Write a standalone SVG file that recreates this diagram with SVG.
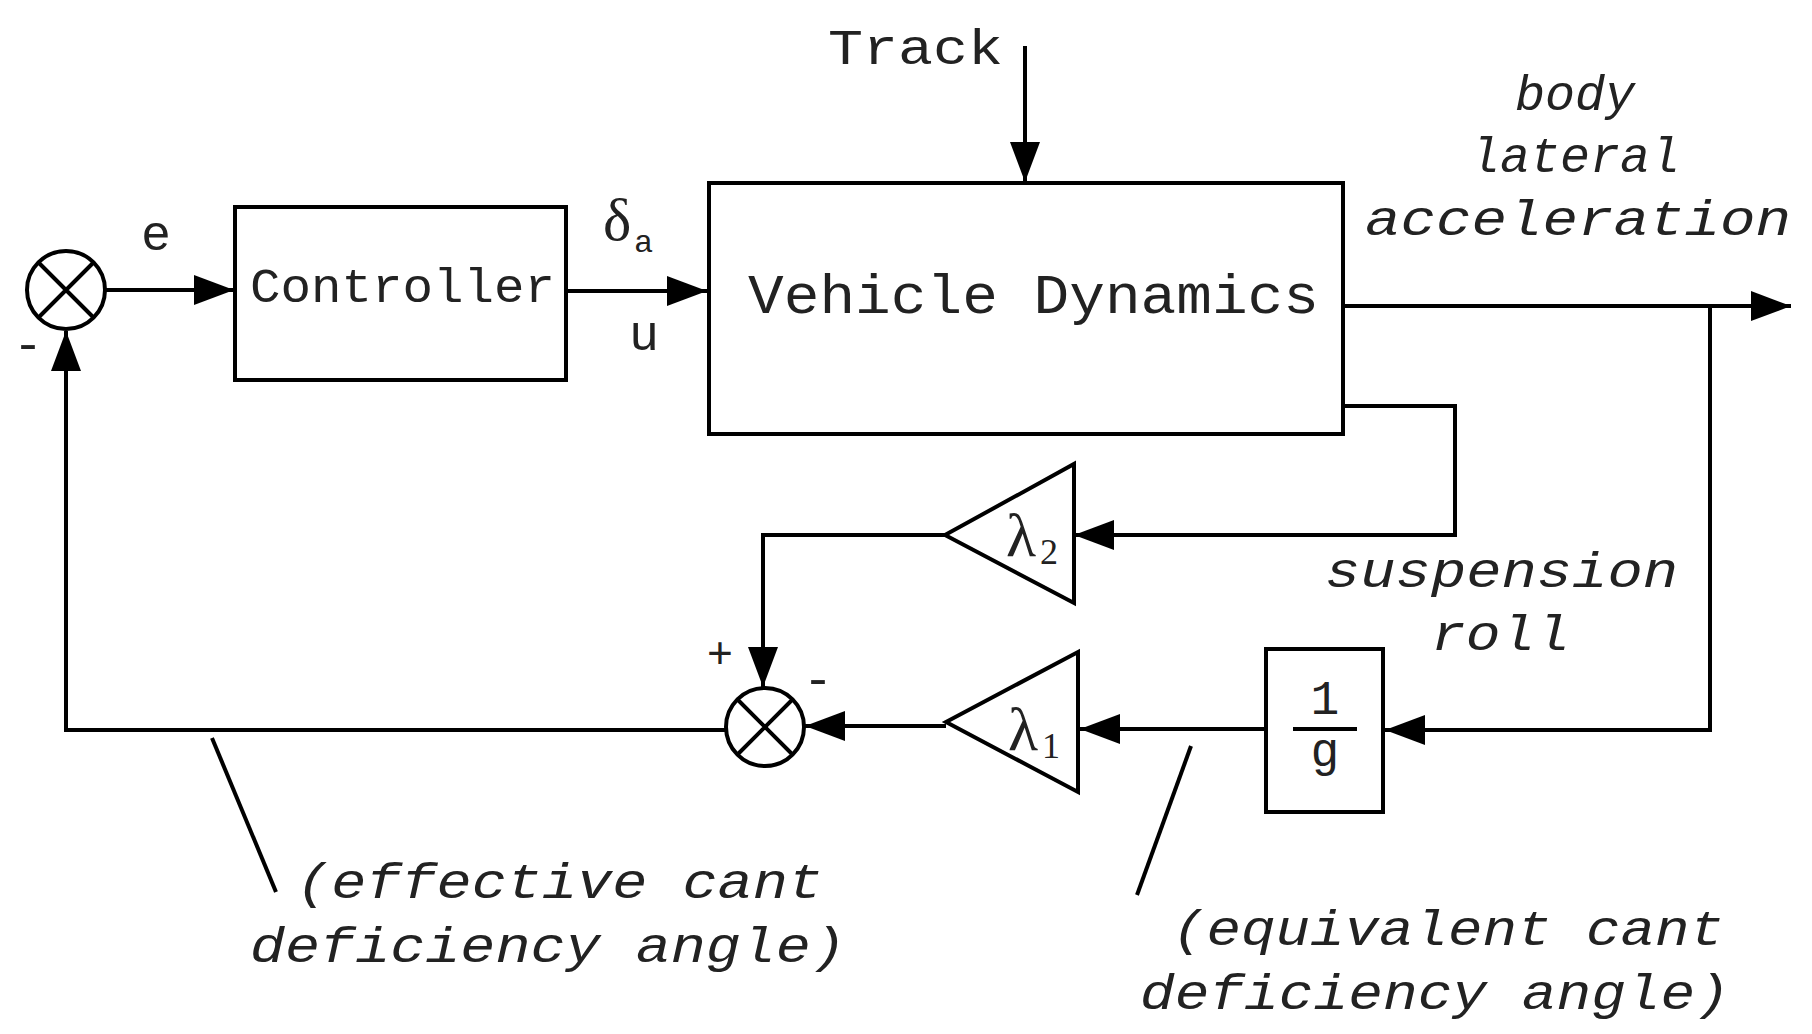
<svg xmlns="http://www.w3.org/2000/svg" width="1812" height="1034" viewBox="0 0 1812 1034">
<style>
.s{fill:none;stroke:#000;stroke-width:4}
.b{fill:#fff;stroke:#000;stroke-width:4}
.m{font-family:"Liberation Mono","DejaVu Sans Mono",monospace;fill:#222}
.i{font-family:"Liberation Mono","DejaVu Sans Mono",monospace;font-style:italic;fill:#222}
.g{font-family:"Liberation Serif","DejaVu Serif",serif;fill:#222}
</style>
<defs>
<marker id="a" markerUnits="userSpaceOnUse" markerWidth="40" markerHeight="30" refX="40" refY="15" orient="auto"><path d="M0,0L40,15L0,30z" fill="#000"/></marker>
</defs>
<rect width="1812" height="1034" fill="#fff"/>
<g id="connectors" class="s">
<line x1="105" y1="290" x2="234" y2="290" marker-end="url(#a)"/>
<line x1="566" y1="291" x2="707" y2="291" marker-end="url(#a)"/>
<line x1="1025" y1="46" x2="1025" y2="182" marker-end="url(#a)"/>
<line x1="1343" y1="306" x2="1791" y2="306" marker-end="url(#a)"/>
<polyline points="1710,306 1710,730 1385,730" marker-end="url(#a)"/>
<line x1="1266" y1="729" x2="1080" y2="729" marker-end="url(#a)"/>
<polyline points="1343,406 1455,406 1455,535 1074,535" marker-end="url(#a)"/>
<polyline points="945,535 763,535 763,687" marker-end="url(#a)"/>
<line x1="946" y1="726" x2="805" y2="726" marker-end="url(#a)"/>
<polyline points="726,730 66,730 66,331" marker-end="url(#a)"/>
<line x1="212" y1="738" x2="276" y2="892"/>
<line x1="1191" y1="746" x2="1137" y2="895"/>
</g>
<g id="sum1"><circle class="b" cx="66" cy="290" r="39"/><path class="s" d="M38,262L94,318M94,262L38,318"/></g>
<g id="sum2"><circle class="b" cx="765" cy="727" r="39"/><path class="s" d="M737,699L793,755M793,699L737,755"/></g>
<g id="controller"><rect class="b" x="235" y="207" width="331" height="173"/><text class="m" x="250" y="302" font-size="48" textLength="305" lengthAdjust="spacingAndGlyphs">Controller</text></g>
<g id="vehicle"><rect class="b" x="709" y="183" width="634" height="251"/><text class="m" x="748" y="313" font-size="56" textLength="571" lengthAdjust="spacingAndGlyphs">Vehicle Dynamics</text></g>
<g id="lambda2"><path class="b" d="M945,535L1074,464L1074,603z"/><text class="g" x="1006" y="556" font-size="62">λ</text><text class="g" x="1040" y="564" font-size="36">2</text></g>
<g id="lambda1"><path class="b" d="M946,722L1078,652L1078,792z"/><text class="g" x="1008" y="750" font-size="62">λ</text><text class="g" x="1042" y="758" font-size="36">1</text></g>
<g id="inv_g"><rect class="b" x="1266" y="649" width="117" height="163"/><line class="s" x1="1293" y1="729" x2="1357" y2="729"/><text class="m" x="1325" y="714" font-size="48" text-anchor="middle">1</text><text class="m" x="1325" y="766" font-size="48" text-anchor="middle">g</text></g>
<g id="labels">
<text class="m" x="828" y="64" font-size="50" textLength="175" lengthAdjust="spacingAndGlyphs">Track</text>
<text class="m" x="156" y="250" font-size="50" text-anchor="middle">e</text>
<text class="g" x="603" y="240" font-size="60">δ</text><text class="m" x="634" y="252" font-size="32">a</text>
<text class="m" x="644" y="350" font-size="50" text-anchor="middle">u</text>
<text class="m" x="28" y="360" font-size="50" text-anchor="middle">-</text>
<text class="m" x="720" y="668" font-size="44" text-anchor="middle">+</text>
<text class="m" x="818" y="695" font-size="50" text-anchor="middle">-</text>
<text class="i" x="1575" y="110" font-size="50" text-anchor="middle">body</text>
<text class="i" x="1575" y="172" font-size="50" text-anchor="middle">lateral</text>
<text class="i" x="1365" y="235" font-size="50" textLength="426" lengthAdjust="spacingAndGlyphs">acceleration</text>
<text class="i" x="1325" y="587" font-size="50" textLength="353" lengthAdjust="spacingAndGlyphs">suspension</text>
<text class="i" x="1431" y="650" font-size="50" textLength="139" lengthAdjust="spacingAndGlyphs">roll</text>
<text class="i" x="296" y="898" font-size="50" textLength="527" lengthAdjust="spacingAndGlyphs">(effective cant</text>
<text class="i" x="250" y="962" font-size="50" textLength="596" lengthAdjust="spacingAndGlyphs">deficiency angle)</text>
<text class="i" x="1172" y="945" font-size="50" textLength="552" lengthAdjust="spacingAndGlyphs">(equivalent cant</text>
<text class="i" x="1140" y="1009" font-size="50" textLength="590" lengthAdjust="spacingAndGlyphs">deficiency angle)</text>
</g>
</svg>
